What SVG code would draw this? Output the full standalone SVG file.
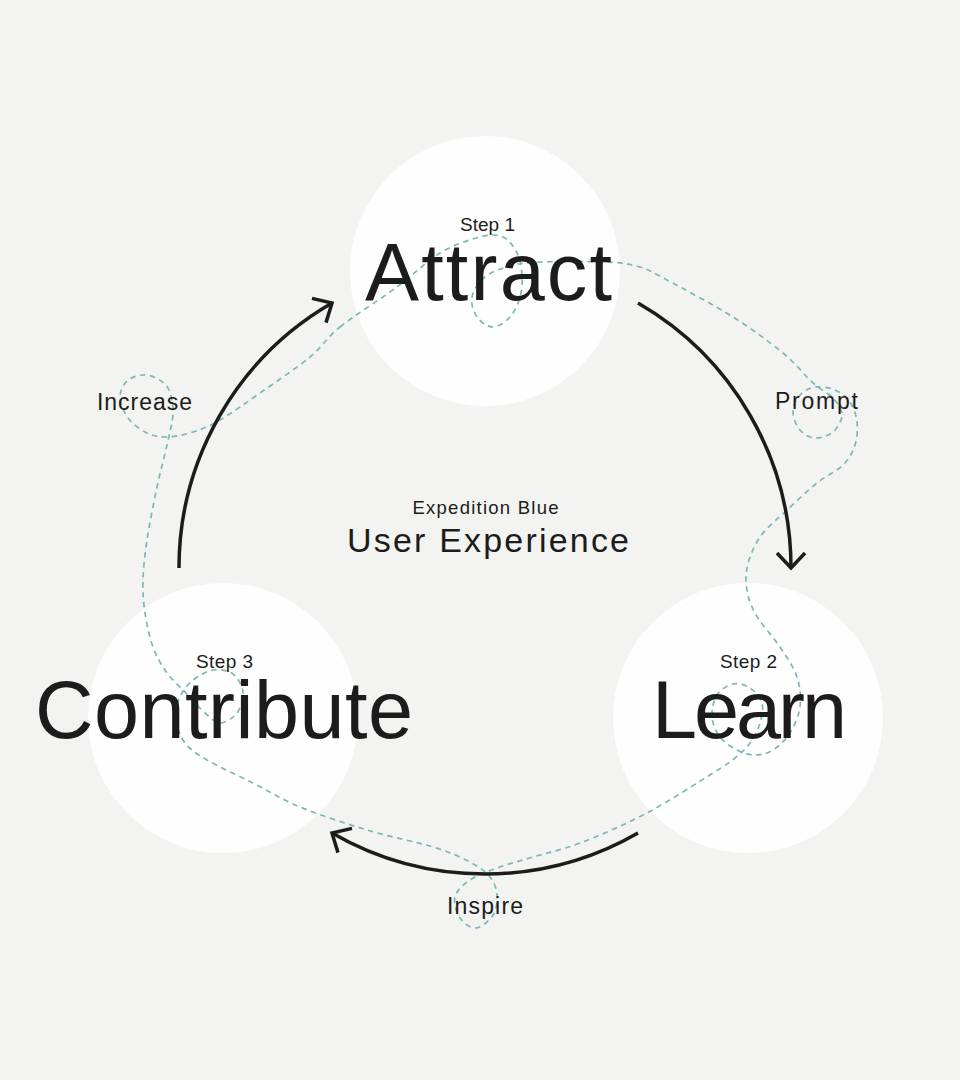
<svg xmlns="http://www.w3.org/2000/svg" width="960" height="1080" viewBox="0 0 960 1080">
<style>
.node circle{fill:#fefefe;}
.lbl{font-family:"Liberation Sans",Arial,sans-serif;fill:#1c1c1c;text-anchor:middle;}
.step{font-size:19px;}
.big{font-size:81px;}
.edge{font-size:23px;}
.arc{fill:none;stroke:#1c1c1c;stroke-width:3.5;}
.journey{fill:none;stroke:#7bb8b5;stroke-width:1.7;stroke-dasharray:5.5 4.5;}
</style>
<defs>
<marker id="ah" viewBox="-20 -20 25 40" refX="0" refY="0" markerWidth="25" markerHeight="40" orient="auto" markerUnits="userSpaceOnUse">
<path d="M-15,-14 L0,0 L-15,14" fill="none" stroke="#1c1c1c" stroke-width="3.5"/>
</marker>
</defs>
<rect width="960" height="1080" fill="#f3f3f1"/>
<g id="node-attract" class="node"><circle cx="485" cy="271" r="135"/></g>
<g id="node-learn" class="node"><circle cx="748" cy="718" r="135"/></g>
<g id="node-contribute" class="node"><circle cx="223" cy="718" r="135"/></g>
<g id="journey">
<path class="journey" d="M340,327 C354.5,315.3 380.3,299.3 397,287 S426.2,261.3 440,253 S469.5,239.7 480,237 S496.8,234.3 503,237 S513.8,246.7 517,253 S521.5,267.7 522,275 S522,290 520,297 S514.5,312 510,317 S498.5,327 493,327 S480.5,322 477,317 S470.7,303.7 472,297 S478.7,282.2 485,277 S500.8,268.5 510,266 S523.8,262.7 540,262 S590.3,261.2 607,262 S630,264 640,267 S651.5,271.7 667,280 S713.7,304.8 733,317 S769.7,342 783,353 S804.7,375.5 813,383 S828.2,392.7 833,398 S842,409.3 842,415 S837.5,428.2 833,432 S820.5,438.3 815,438 S803.7,434.3 800,430 S793,417.8 793,412 S796.3,399.2 800,395 S809.2,387.8 815,387 S829.2,387.5 835,390 S846.3,396.7 850,402 S856.2,414.8 857,422 S857.3,437.8 855,445 S849.3,458.7 843,465 S826.3,475.5 817,483 S796.5,501 787,510 S766.7,527.3 760,537 S749,558.3 747,568 S746.2,586.7 748,595 S752.7,609.3 758,618 S773.5,637.2 780,647 S793.7,667 797,677 S801.2,697.7 800,707 S794.5,725.8 790,733 S778.8,746.3 773,750 S761,755 755,755 S742.8,753 737,750 S724.2,742.5 720,737 S712.5,724 712,717 S713.5,700.5 717,695 S727.5,685.2 733,684 S745.2,684.8 750,688 S760.3,697.2 762,703 S762,716.3 760,723 S754.2,737.2 750,743 S741.2,753 735,758 S727.7,763.8 713,773 S669.2,801.3 647,813 S599,835.7 580,843 S546.3,853 533,857 S510.5,863.2 500,867 S477.5,875 470,880 S456.7,890.7 455,897 S456.5,912.8 460,918 S470.5,928.5 476,928 S489.5,920.5 493,915 S497.5,901.3 497,895 S494.5,882.5 490,877 S479.5,867 470,862 S450.2,852.3 433,847 S389.2,836.7 367,830 S319,814.8 300,807 S268.5,790.8 253,783 S218.3,766.7 207,760 S190,749.3 185,743 S178,729.3 177,722 S176.5,705.8 179,699 S186.3,685.8 192,681 S206.2,671.2 213,670 S228,670.3 233,674 S242.3,685.5 243,692 S240.8,707.8 237,713 S225.3,723 220,723 S210.5,717.8 205,713 S193.3,700.7 187,694 S172.7,680.8 167,673 S156.7,657 153,647 S146.7,624.2 145,613 S142.7,592.2 143,580 S144.7,555.5 147,540 S153.7,502.8 157,487 S164.3,457.3 167,445 S172.7,422.2 173,413 S171.5,395.7 169,390 S162.3,381.5 158,379 S148.2,374.7 143,375 S130.8,377.2 127,381 S119.7,391.7 120,398 S124.5,413.2 129,419 S140.7,430 147,433 S159.3,437.2 167,437 S184.2,434.8 193,432 S208.8,426.5 220,420 S245,403.5 260,393 S296.7,368 310,357 S325.5,338.7 340,327 Z"/>
</g>
<g id="connectors">
<path id="e-attract-learn" class="arc" d="M638,303 A306,306 0 0 1 791,568" marker-end="url(#ah)"/>
<path id="e-learn-contribute" class="arc" d="M638,833 A306,306 0 0 1 332,833" marker-end="url(#ah)"/>
<path id="e-contribute-attract" class="arc" d="M179,568 A306,306 0 0 1 332,303" marker-end="url(#ah)"/>
<text class="lbl edge" x="816.5" y="409" textLength="83">Prompt</text>
<text class="lbl edge" x="485" y="914" textLength="76">Inspire</text>
<text class="lbl edge" x="144.5" y="410" textLength="95">Increase</text>
</g>
<g id="label-attract">
<text class="lbl step" x="487.5" y="231" textLength="55">Step 1</text>
<text class="lbl big" x="488.5" y="300" textLength="247">Attract</text>
</g>
<g id="label-learn">
<text class="lbl step" x="748.5" y="668" textLength="57">Step 2</text>
<text class="lbl big" x="749.5" y="738" textLength="195">Learn</text>
</g>
<g id="label-contribute">
<text class="lbl step" x="224.5" y="668" textLength="57">Step 3</text>
<text class="lbl big" x="224" y="738" textLength="378">Contribute</text>
</g>
<g id="title">
<text class="lbl" x="485.5" y="514" font-size="18.5" textLength="146">Expedition Blue</text>
<text class="lbl" x="488" y="552" font-size="34" textLength="282">User Experience</text>
</g>
</svg>
